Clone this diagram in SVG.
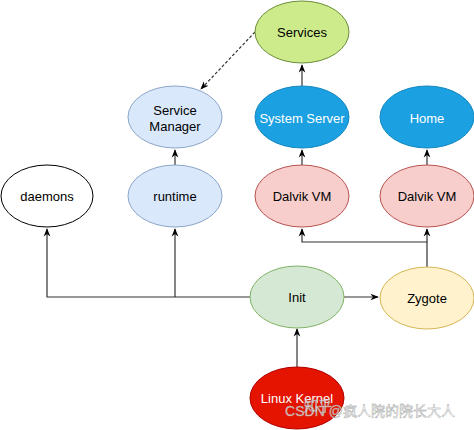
<svg xmlns="http://www.w3.org/2000/svg" width="474" height="430" viewBox="0 0 474 430">
<defs>
<style>
text{font-family:"Liberation Sans",Arial,sans-serif;font-size:13px;text-anchor:middle;dominant-baseline:central}
.c{fill:none;stroke:#333;stroke-width:1.2}
.w{fill:#fff}
</style>
<marker id="a" viewBox="0 0 10 10" refX="9" refY="5" markerWidth="7" markerHeight="7" orient="auto"><path d="M0,1L10,5L0,9L3,5z" fill="#000"/></marker>
</defs>
<rect width="474" height="430" fill="#fff"/>
<g id="connectors">
<path class="c" d="M250,297H47V229" marker-end="url(#a)"/>
<path class="c" d="M175,297V229" marker-end="url(#a)"/>
<path class="c" d="M343,297H378" marker-end="url(#a)"/>
<path class="c" d="M427,267V242H302V229" marker-end="url(#a)"/>
<path class="c" d="M427,242V229" marker-end="url(#a)"/>
<path class="c" d="M175,165V150" marker-end="url(#a)"/>
<path class="c" d="M302,165V150" marker-end="url(#a)"/>
<path class="c" d="M427,165V150" marker-end="url(#a)"/>
<path class="c" d="M302,86V65" marker-end="url(#a)"/>
<path class="c" d="M297,367V329" marker-end="url(#a)"/>
<path class="c" d="M255,32L201,89" stroke-dasharray="3,2" marker-end="url(#a)"/>
</g>
<g id="services"><ellipse cx="302" cy="32" rx="47" ry="31" fill="#cdeb8b" stroke="#6b8e3a"/><text x="302" y="32">Services</text></g>
<g id="service-manager"><ellipse cx="175" cy="117" rx="47" ry="31" fill="#dae8fc" stroke="#8ca6c9"/><text x="175" y="110">Service</text><text x="175" y="126">Manager</text></g>
<g id="system-server"><ellipse cx="302" cy="117" rx="47" ry="31" fill="#1ba1e2" stroke="#1688c0"/><text x="302" y="118" class="w">System Server</text></g>
<g id="home"><ellipse cx="427" cy="117" rx="47" ry="31" fill="#1ba1e2" stroke="#1688c0"/><text x="427" y="118" class="w">Home</text></g>
<g id="daemons"><ellipse cx="47" cy="196" rx="46" ry="31" fill="#fff" stroke="#000"/><text x="47" y="196">daemons</text></g>
<g id="runtime"><ellipse cx="175" cy="196" rx="47" ry="31" fill="#dae8fc" stroke="#8ca6c9"/><text x="175" y="196">runtime</text></g>
<g id="dalvik1"><ellipse cx="302" cy="196" rx="47" ry="31" fill="#f8cecc" stroke="#b85450"/><text x="302" y="196">Dalvik VM</text></g>
<g id="dalvik2"><ellipse cx="427" cy="196" rx="47" ry="31" fill="#f8cecc" stroke="#b85450"/><text x="427" y="196">Dalvik VM</text></g>
<g id="init"><ellipse cx="297" cy="297" rx="47" ry="31" fill="#d5e8d4" stroke="#82b366"/><text x="297" y="297">Init</text></g>
<g id="zygote"><ellipse cx="427" cy="298" rx="47" ry="31" fill="#fff2cc" stroke="#d6b656"/><text x="427" y="298">Zygote</text></g>
<g id="linux-kernel"><ellipse cx="297" cy="398" rx="47" ry="31" fill="#e51400" stroke="#b20000"/><text x="297" y="398" class="w">Linux Kernel</text></g>
<g id="watermark" fill="#fff" fill-opacity="0.75" stroke="#999" stroke-width="0.4">
<text x="318" y="405" style="font-family:'Noto Sans CJK SC',sans-serif;font-size:14px">知乎</text>
<text x="370" y="411" style="font-family:'Liberation Sans','Noto Sans CJK SC',sans-serif;font-size:14px">CSDN @疯人院的院长大人</text>
</g>
</svg>
